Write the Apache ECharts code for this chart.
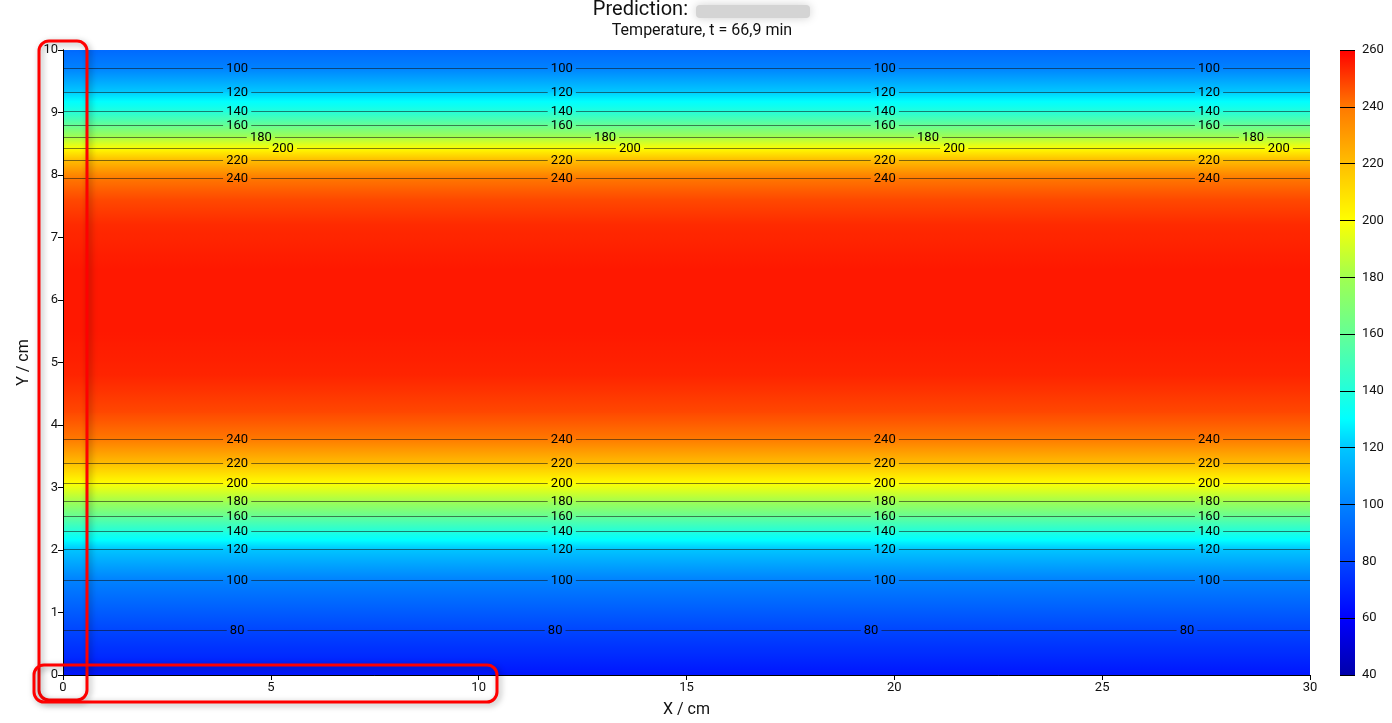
<!DOCTYPE html>
<html>
<head>
<meta charset="utf-8">
<title>Prediction</title>
<script src="https://cdn.jsdelivr.net/npm/echarts@6/dist/echarts.min.js"></script>
<style>
  html, body { margin: 0; padding: 0; background: #fff; }
  #chart { width: 1392px; height: 723px; }
</style>
</head>
<body>
<div id="chart"></div>
<script>
// temperature profile across Y (field is constant along X)
const profileY = [0, 0.72, 1.52, 2.02, 2.30, 2.54, 2.78, 3.07, 3.39, 3.78, 4.2, 4.8, 5.5, 6.5, 7.2, 7.6, 7.95, 8.24, 8.43, 8.61, 8.80, 9.02, 9.33, 9.71, 10]
const profileT = [66, 80, 100, 120, 140, 160, 180, 200, 220, 240, 248, 254, 256, 256, 253, 248, 240, 220, 200, 180, 160, 140, 120, 100, 92]

// contour lines: level, Y position, X of each label
const contourLevels = [80, 100, 120, 140, 160, 180, 200, 220, 240, 240, 220, 200, 180, 160, 140, 120, 100]
const contourY = [0.72, 1.52, 2.02, 2.30, 2.54, 2.78, 3.07, 3.39, 3.78, 7.95, 8.24, 8.43, 8.61, 8.80, 9.02, 9.33, 9.71]
const labelsStd = [4.19, 12.0, 19.77, 27.57]
const contourLabelX = [
  [4.19, 11.84, 19.44, 27.04],
  labelsStd, labelsStd, labelsStd, labelsStd, labelsStd, labelsStd, labelsStd, labelsStd,
  labelsStd, labelsStd,
  [5.29, 13.64, 21.44, 29.25],
  [4.76, 13.04, 20.81, 28.63],
  labelsStd, labelsStd, labelsStd, labelsStd
]

// colour bar ticks
const colorTicks = [40, 60, 80, 100, 120, 140, 160, 180, 200, 220, 240, 260]

// colour map (value -> rgb)
const cmap = [
  [40, [0, 0, 170]], [60, [0, 0, 255]], [80, [0, 70, 255]], [100, [0, 130, 255]],
  [120, [0, 200, 255]], [130, [0, 255, 255]], [160, [100, 255, 150]], [180, [160, 255, 80]],
  [200, [255, 255, 0]], [220, [255, 190, 0]], [240, [255, 120, 0]], [260, [255, 0, 0]]
]
const colorOf = (v) => {
  if (v <= cmap[0][0]) return 'rgb(' + cmap[0][1].join(',') + ')'
  for (let i = 1; i < cmap.length; i++) {
    if (v <= cmap[i][0]) {
      const a = cmap[i - 1], b = cmap[i]
      const t = (v - a[0]) / (b[0] - a[0])
      const c = a[1].map((x, k) => Math.round(x + (b[1][k] - x) * t))
      return 'rgb(' + c.join(',') + ')'
    }
  }
  return 'rgb(' + cmap[cmap.length - 1][1].join(',') + ')'
}
// vertical gradient from vTop to vBottom
const gradient = (vTop, vBottom) => {
  const stops = []
  for (let k = 0; k <= 10; k++) {
    const t = k / 10
    stops.push({ offset: t, color: colorOf(vTop + (vBottom - vTop) * t) })
  }
  return new echarts.graphic.LinearGradient(0, 0, 0, 1, stops)
}

const bands = []
for (let i = 0; i < profileY.length - 1; i++) {
  bands.push([profileY[i], profileY[i + 1], profileT[i], profileT[i + 1]])
}
const barBands = []
for (let i = 0; i < colorTicks.length - 1; i++) {
  barBands.push([colorTicks[i], colorTicks[i + 1]])
}

const font = 'Roboto, "Noto Sans", sans-serif'
const lineColor = 'rgba(20,20,20,0.55)'

const chart = echarts.init(document.getElementById('chart'))
chart.setOption({
  animation: false,
  textStyle: { fontFamily: font },
  grid: [
    { left: 63, top: 50, right: 82, bottom: 48 },
    { left: 1340, top: 50, width: 15, bottom: 48 }
  ],
  xAxis: [
    {
      gridIndex: 0, type: 'value', min: 0, max: 30, interval: 5, z: 5,
      name: 'X / cm', nameLocation: 'middle', nameGap: 27,
      nameTextStyle: { fontSize: 16, color: '#111' },
      axisLine: { lineStyle: { color: '#000', width: 1 } },
      axisTick: { length: 5, lineStyle: { color: '#000' } },
      axisLabel: { fontSize: 13, color: '#111', margin: 6 },
      splitLine: { show: false }
    },
    {
      gridIndex: 0, type: 'value', min: 0, max: 30, position: 'top', z: 5,
      axisLine: { lineStyle: { color: '#000', width: 1 } },
      axisTick: { show: false }, axisLabel: { show: false }, splitLine: { show: false }
    },
    {
      gridIndex: 1, type: 'value', min: 0, max: 1, show: false
    }
  ],
  yAxis: [
    {
      gridIndex: 0, type: 'value', min: 0, max: 10, interval: 1, z: 5,
      name: 'Y / cm', nameLocation: 'middle', nameGap: 30,
      nameTextStyle: { fontSize: 16, color: '#111' },
      axisLine: { show: true, lineStyle: { color: '#000', width: 1 } },
      axisTick: { show: true, length: 5, lineStyle: { color: '#000' } },
      axisLabel: { fontSize: 13, color: '#111', margin: 5 },
      splitLine: { show: false }
    },
    {
      gridIndex: 0, type: 'value', min: 0, max: 10, position: 'right', z: 5,
      axisLine: { show: true, lineStyle: { color: '#000', width: 1 } },
      axisTick: { show: false }, axisLabel: { show: false }, splitLine: { show: false }
    },
    {
      gridIndex: 1, type: 'value', min: 40, max: 260, interval: 20, position: 'right', z: 5,
      axisLine: { show: false }, axisTick: { show: false },
      axisLabel: { fontSize: 13, color: '#111', margin: 7 },
      splitLine: { show: true, lineStyle: { color: '#000', width: 1 } }
    }
  ],
  series: [
    {
      // temperature field
      type: 'custom', xAxisIndex: 0, yAxisIndex: 0, z: 1, clip: true,
      data: bands,
      encode: { x: -1, y: [0, 1] },
      renderItem: (params, api) => {
        const y0 = api.value(0), y1 = api.value(1)
        const t0 = api.value(2), t1 = api.value(3)
        const pTop = api.coord([0, y1])
        const pBot = api.coord([30, y0])
        const top = Math.floor(pTop[1])
        const bot = Math.ceil(pBot[1])
        return {
          type: 'rect',
          shape: { x: pTop[0], y: top, width: pBot[0] - pTop[0], height: bot - top },
          style: { fill: gradient(t1, t0) }
        }
      }
    },
    {
      // contour lines with labels
      type: 'custom', xAxisIndex: 0, yAxisIndex: 0, z: 2, clip: true,
      data: contourLevels.map((lv, i) => [0, contourY[i], lv]),
      encode: { x: 0, y: 1 },
      renderItem: (params, api) => {
        const i = params.dataIndex
        const yv = api.value(1)
        const left = api.coord([0, yv])
        const right = api.coord([30, yv])
        const py = Math.round(left[1]) + 0.5
        const label = String(contourLevels[i])
        const half = label.length * 3.7 + 3
        const children = []
        let cursor = left[0]
        contourLabelX[i].forEach((lx) => {
          const c = api.coord([lx, yv])[0]
          children.push({ type: 'line', shape: { x1: cursor, y1: py, x2: c - half, y2: py }, style: { stroke: lineColor, lineWidth: 1 } })
          children.push({ type: 'text', style: { text: label, x: c, y: py, align: 'center', verticalAlign: 'middle', font: '13px ' + font, fill: '#000' } })
          cursor = c + half
        })
        children.push({ type: 'line', shape: { x1: cursor, y1: py, x2: right[0], y2: py }, style: { stroke: lineColor, lineWidth: 1 } })
        return { type: 'group', children: children }
      }
    },
    {
      // colour bar
      type: 'custom', xAxisIndex: 2, yAxisIndex: 2, z: 1,
      data: barBands,
      encode: { x: -1, y: [0, 1] },
      renderItem: (params, api) => {
        const v0 = api.value(0), v1 = api.value(1)
        const pTop = api.coord([0, v1])
        const pBot = api.coord([1, v0])
        const top = Math.floor(pTop[1])
        const bot = Math.ceil(pBot[1])
        return {
          type: 'rect',
          shape: { x: pTop[0], y: top, width: pBot[0] - pTop[0], height: bot - top },
          style: { fill: gradient(v1, v0) }
        }
      }
    }
  ],
  graphic: [
    { type: 'text', x: 688, y: 10, style: { text: 'Prediction:', font: '20px ' + font, fill: '#111', align: 'right', verticalAlign: 'middle' } },
    { type: 'rect', shape: { x: 696, y: 5, width: 114, height: 13, r: 4 }, style: { fill: '#d4d4d4', shadowBlur: 10, shadowColor: '#d0d0d0' } },
    { type: 'text', x: 702, y: 31, style: { text: 'Temperature, t = 66,9 min', font: '16px ' + font, fill: '#111', align: 'center', verticalAlign: 'middle' } },
    // highlight boxes
    { type: 'rect', z: 100, shape: { x: 39, y: 41, width: 48, height: 659, r: 10 }, style: { fill: null, stroke: '#f00', lineWidth: 3, shadowBlur: 6, shadowColor: 'rgba(0,0,0,0.35)', shadowOffsetX: 2, shadowOffsetY: 2 } },
    { type: 'rect', z: 100, shape: { x: 34, y: 665, width: 463, height: 37, r: 10 }, style: { fill: null, stroke: '#f00', lineWidth: 3, shadowBlur: 6, shadowColor: 'rgba(0,0,0,0.35)', shadowOffsetX: 2, shadowOffsetY: 2 } }
  ]
})
</script>
</body>
</html>
